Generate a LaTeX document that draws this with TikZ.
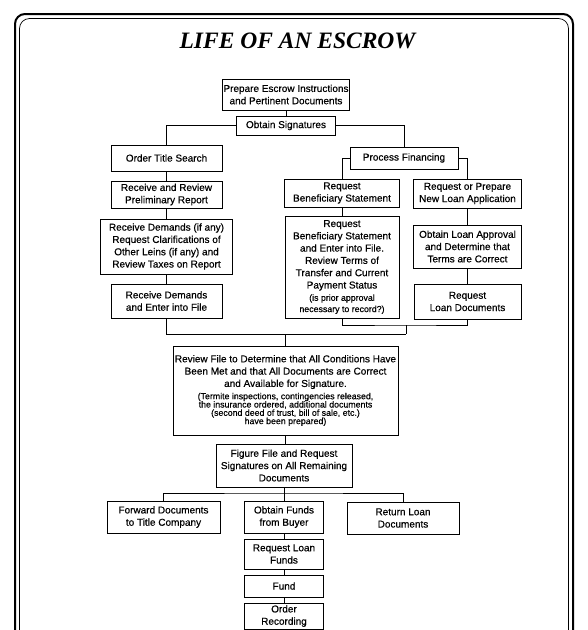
\documentclass[tikz,border=0pt]{standalone}
\usepackage{fontspec}
\setmainfont{Liberation Serif}
\setsansfont{Liberation Sans}
\newfontfamily\boxfont{Liberation Sans}[BoldFont=Liberation Sans,BoldFeatures={FakeBold=0.5}]
\newcommand{\smalltxt}{\fontsize{8.8}{8.8}\selectfont}

\begin{document}
\begin{tikzpicture}[x=1pt,y=-1pt,
  box/.style={draw,line width=0.9pt,inner sep=1pt,align=center,font=\boxfont\bfseries\fontsize{10}{12.3}\selectfont},
  link/.style={line width=0.9pt},
  frame/.style={rounded corners=10pt}
]
\useasboundingbox (0,0) rectangle (588,630);
% double frame, open at the bottom
\draw[frame,line width=2pt] (15,632) -- (15,14) -- (573,14) -- (573,632);
\draw[frame,line width=0.7pt] (19.5,632) -- (19.5,18.5) -- (568.5,18.5) -- (568.5,632);
\node[font=\rmfamily\bfseries\itshape\fontsize{23.5}{24}\selectfont] (title) at (297.5,41) {LIFE OF AN ESCROW};

\node[box,minimum width=127pt,minimum height=31pt] (prep) at (286,94.5) {Prepare Escrow Instructions\\and Pertinent Documents};
\node[box,minimum width=99pt,minimum height=19pt] (sign) at (286,125.5) {Obtain Signatures};
% title side
\node[box,minimum width=111pt,minimum height=26pt] (search) at (166.5,158) {Order Title Search};
\node[box,minimum width=111pt,minimum height=27pt] (prelim) at (166.5,194.5) {Receive and Review\\Preliminary Report};
\node[box,minimum width=132pt,minimum height=55pt] (demands) at (166.5,246.5) {Receive Demands (if any)\\Request Clarifications of\\Other Leins (if any) and\\Review Taxes on Report};
\node[box,minimum width=111pt,minimum height=34pt] (enter) at (166.5,301) {Receive Demands\\and Enter into File};
% financing side
\node[box,minimum width=108pt,minimum height=22pt] (finance) at (404,158) {Process Financing};
\node[box,minimum width=115pt,minimum height=28pt] (benef) at (342,193) {Request\\Beneficiary Statement};
\node[box,minimum width=108pt,minimum height=29pt] (loanapp) at (467.5,193.5) {Request or Prepare\\New Loan Application};
\node[box,minimum width=114pt,minimum height=102pt] (status) at (342,267) {Request\\Beneficiary Statement\\and Enter into File.\\Review Terms of\\Transfer and Current\\Payment Status\\{\smalltxt (is prior approval}\\[-1pt]{\smalltxt necessary to record?)}};
\node[box,minimum width=108pt,minimum height=43pt] (approve) at (467.5,246.5) {Obtain Loan Approval\\and Determine that\\Terms are Correct};
\node[box,minimum width=107pt,minimum height=35pt] (loandocs) at (467.5,301.5) {Request\\Loan Documents};
% review and closing
\node[box,minimum width=225pt,minimum height=89pt] (review) at (285.5,390.5) {Review File to Determine that All Conditions Have\\Been Met and that All Documents are Correct\\and Available for Signature.\\{\smalltxt (Termite inspections, contingencies released,}\\[-4pt]{\smalltxt the insurance ordered, additional documents}\\[-4pt]{\smalltxt (second deed of trust, bill of sale, etc.)}\\[-4pt]{\smalltxt have been prepared)}};
\node[box,minimum width=136pt,minimum height=43pt] (figure) at (284,465.5) {Figure File and Request\\Signatures on All Remaining\\Documents};
\node[box,minimum width=113pt,minimum height=32pt] (forward) at (163.5,517) {Forward Documents\\to Title Company};
\node[box,minimum width=79pt,minimum height=32pt] (funds) at (284,517) {Obtain Funds\\from Buyer};
\node[box,minimum width=112pt,minimum height=32pt] (returnd) at (403,518) {Return Loan\\Documents};
\node[box,minimum width=79pt,minimum height=30pt] (reqfunds) at (284,554) {Request Loan\\Funds};
\node[box,minimum width=79pt,minimum height=22pt] (fund) at (284,586) {Fund};
\node[box,minimum width=79pt,minimum height=26pt] (record) at (284,616) {Order\\Recording};

\coordinate (rj) at (406,325);
\coordinate (mj) at (406,334);
\coordinate (bj) at (284,493);

\draw[link] (prep) -- (sign);
\draw[link] (sign.west) -| (search.north);
\draw[link] (sign.east) -| (finance.north);
\draw[link] (search) -- (prelim);
\draw[link] (prelim) -- (demands);
\draw[link] (demands) -- (enter);
\draw[link] (finance.west) -| (benef.north);
\draw[link] (finance.east) -| (loanapp.north);
\draw[link] (benef) -- (status);
\draw[link] (loanapp) -- (approve);
\draw[link] (approve) -- (loandocs);
\draw[link] (status.south) |- (rj) -| (loandocs.south);
\draw[link] (rj) -- (mj);
\draw[link] (enter.south) |- (mj);
\draw[link] (review.north) -- (review.north |- mj);
\draw[link] (review.south) -- (review.south |- figure.north);
\draw[link] (figure) -- (funds);
\draw[link] (forward.north) |- (bj) -| (returnd.north);
\draw[link] (funds) -- (reqfunds);
\draw[link] (reqfunds) -- (fund);
\draw[link] (fund) -- (record);
\end{tikzpicture}
\end{document}
